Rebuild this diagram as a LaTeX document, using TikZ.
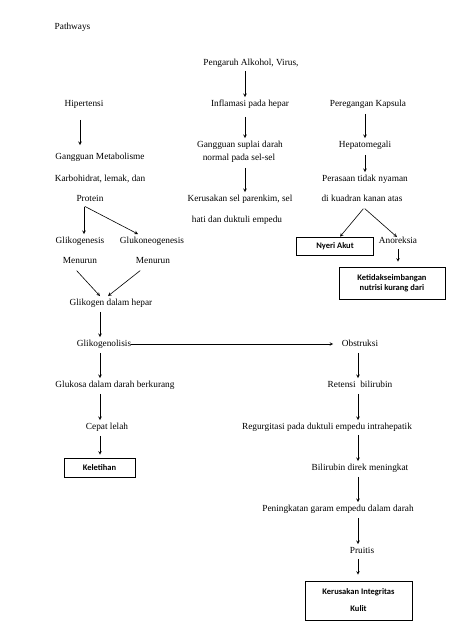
\documentclass[tikz,border=0pt]{standalone}
\usepackage{fontspec}
\setmainfont{Liberation Serif}
\newfontfamily\boxfont{Carlito}
\usetikzlibrary{calc}

\begin{document}
\begin{tikzpicture}[x=1pt,y=-1pt,
    every node/.style={font=\fontsize{9.3}{11}\selectfont,text height=6.5pt,text depth=2pt,inner sep=2.5pt},
    box/.style={draw,line width=0.6pt,text height=,text depth=,align=center,font=\boxfont\bfseries\fontsize{8.5}{10}\selectfont},
    arr/.style={-stealth,line width=0.6pt,shorten <=1pt}]
            \useasboundingbox (0,0) rectangle (474,632);

            % columns of the vertical arrows
            \coordinate (c1) at (80,0);
            \coordinate (c2) at (100,0);
            \coordinate (c3) at (245,0);
            \coordinate (c4) at (365,0);
            \coordinate (c5) at (398,0);
            \coordinate (c6) at (358,0);

            \node[anchor=west] (title) at (52,27) {Pathways};
            \node (alk) at (251,63) {Pengaruh Alkohol, Virus,};

            \node (hip) at (84,104) {Hipertensi};
            \node (inf) at (250,104) {Inflamasi pada hepar};
            \node (kap) at (368,104) {Peregangan Kapsula};

            \node (gs1) at (240,145) {Gangguan suplai darah};
            \node (gs2) at (239,158) {normal pada sel-sel};
            \node (hpm) at (365,145) {Hepatomegali};
            \node (gm1) at (100,157) {Gangguan Metabolisme};
            \node (gm2) at (100,179) {Karbohidrat, lemak, dan};
            \node (prot) at (90,199) {Protein};
            \node (ks1) at (240,199) {Kerusakan sel parenkim, sel};
            \node (ks2) at (237,220) {hati dan duktuli empedu};
            \node (pr1) at (365,179) {Perasaan tidak nyaman};
            \node (pr2) at (362,199) {di kuadran kanan atas};

            \node (gkg) at (80,241) {Glikogenesis};
            \node (gng) at (152,241) {Glukoneogenesis};
            \node (men1) at (80,261) {Menurun};
            \node (men2) at (153,261) {Menurun};
            \node[box,minimum width=77,minimum height=18] (nyeri) at (335,246) {Nyeri Akut};
            \node (anor) at (398,241) {Anoreksia};
            \node[box,minimum width=106,minimum height=32] (nutr) at (392,283) {Ketidakseimbangan\\nutrisi kurang dari};
            \node (glk) at (111,303) {Glikogen dalam hepar};

            \node (glis) at (104,344) {Glikogenolisis};
            \node (obs) at (360,344) {Obstruksi};
            \node (glu) at (115,385) {Glukosa dalam darah berkurang};
            \node (ret) at (360,385) {Retensi\ \ bilirubin};
            \node (cep) at (107,427) {Cepat lelah};
            \node (reg) at (327,427) {Regurgitasi pada duktuli empedu intrahepatik};
            \node[box,minimum width=71,minimum height=19] (kel) at (99.5,467.5) {Keletihan};
            \node (bil) at (360,468) {Bilirubin direk meningkat};
            \node (gar) at (338,509) {Peningkatan garam empedu dalam darah};
            \node (pru) at (362,551) {Pruitis};
            \node[box,minimum width=107,minimum height=39] (kul) at (358.5,600.5) {Kerusakan Integritas\\[7pt]Kulit};

            % top part
            \draw [arr](alk.south -| c3) -- (inf.north -| c3);
            \draw [arr,shorten <=6pt](inf.south -| c3) -- (gs1.north -| c3);
            \draw [arr,shorten <=3pt](gs2.south -| c3) -- (ks1.north -| c3);
            \draw [arr,shorten <=9pt,shorten >=5pt](hip.south -| c1) -- (gm1.north -| c1);
            \draw [arr,shorten <=3pt](kap.south -| c4) -- (hpm.north -| c4);
            \draw [arr,shorten <=3pt](hpm.south -| c4) -- (pr1.north -| c4);

            % forks
            \draw [arr]($(prot.south)+(-6,0)$) -- ($(gkg.north)+(4,0)$);
            \draw [arr]($(prot.south)+(-6,0)$) -- ($(gng.north)+(-14,0)$);
            \draw [arr]($(pr2.south)+(2,2)$) -- ($(nyeri.north)+(5,0)$);
            \draw [arr]($(pr2.south)+(2,2)$) -- ($(anor.north)+(-1,3)$);
            \draw [arr,shorten >=5pt](anor.south -| c5) -- (nutr.north -| c5);
            \draw [arr,shorten <=1pt]($(men1.south)+(-4,2)$) -- ($(glk.north)+(-11,0)$);
            \draw [arr,shorten <=1pt]($(men2.south)+(-12,2)$) -- ($(glk.north)+(-3,0)$);

            % left column
            \draw [arr,shorten <=2pt](glk.south -| c2) -- (glis.north -| c2);
            \draw [arr,shorten <=2pt](glis.south -| c2) -- (glu.north -| c2);
            \draw [arr,shorten <=2pt](glu.south -| c2) -- (cep.north -| c2);
            \draw [arr,shorten <=2pt,shorten >=3pt](cep.south -| c2) -- (kel.north -| c2);
            \draw [arr,shorten <=-3pt,shorten >=6pt](glis.east) -- (obs.west);

            % right column
            \draw [arr,shorten <=2pt](obs.south -| c6) -- (ret.north -| c6);
            \draw [arr,shorten <=2pt](ret.south -| c6) -- (reg.north -| c6);
            \draw [arr](reg.south -| c6) -- (bil.north -| c6);
            \draw [arr,shorten <=2pt](bil.south -| c6) -- (gar.north -| c6);
            \draw [arr,shorten <=2pt](gar.south -| c6) -- (pru.north -| c6);
            \draw [arr,shorten >=6pt](pru.south -| c6) -- (kul.north -| c6);
        \end{tikzpicture}
\end{document}
